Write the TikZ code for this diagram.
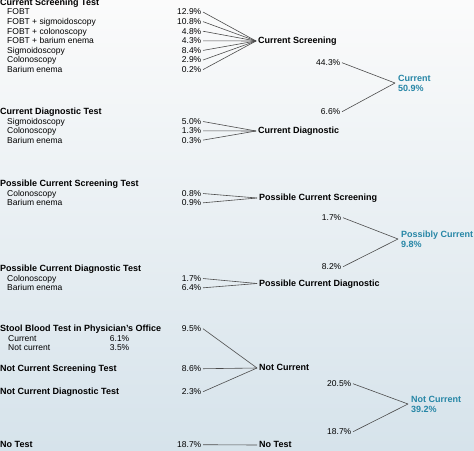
\documentclass[tikz,border=0pt]{standalone}
\usepackage{fontspec}
\setmainfont{Liberation Sans}
\usetikzlibrary{positioning,calc}
\definecolor{sumteal}{RGB}{38,134,166}
\definecolor{bgtop}{RGB}{251,251,251}
\definecolor{bgbot}{RGB}{214,227,235}

\begin{document}
\begin{tikzpicture}[
		x=1pt, y=-1pt,
		head/.style={
			anchor=mid west,
			font=\fontsize{9}{10}\selectfont\bfseries,
			inner sep=0pt
		},
		item/.style={
			anchor=mid west,
			font=\fontsize{8.5}{9}\selectfont,
			inner sep=0pt
		},
		pct/.style={
			anchor=mid east,
			font=\fontsize{8.5}{9}\selectfont,
			inner sep=1.5pt
		},
		group/.style={
			anchor=mid west,
			font=\fontsize{9}{10}\selectfont\bfseries,
			inner sep=2pt
		},
		total/.style={
			anchor=west,
			align=left,
			text=sumteal,
			font=\fontsize{9}{10}\selectfont\bfseries,
			inner sep=3pt
		},
		link/.style={
			draw=black!70,
			line width=0.6pt
		}
		]
		
		% Background
		\useasboundingbox (0,0) rectangle (474,450);
		\shade[top color=bgtop, bottom color=bgbot] (0,0) rectangle (474,450);
		
		% Current screening
		\node[head] (cshead) at (0,3) {Current Screening Test};
		\coordinate (cs) at (256,41);
		\foreach [count=\i] \txt/\val in {FOBT/12.9, FOBT + sigmoidoscopy/10.8, FOBT + colonoscopy/4.8, FOBT + barium enema/4.3, Sigmoidoscopy/8.4, Colonoscopy/2.9, Barium enema/0.2}{
			\node[item] (cst\i) at (7,{2.7+9.6*\i}) {\txt};
			\node[pct] (csp\i) at (203,{2.7+9.6*\i}) {\val\%};
			\draw[link] (csp\i.east) -- (cs);
		}
		\node[group] (csg) at (cs) {Current Screening};
		
		% Current diagnostic
		\node[head] (cdhead) at (0,112) {Current Diagnostic Test};
		\coordinate (cd) at (256,131);
		\foreach [count=\i] \txt/\val in {Sigmoidoscopy/5.0, Colonoscopy/1.3, Barium enema/0.3}{
			\node[item] (cdt\i) at (7,{112.5+9.3*\i}) {\txt};
			\node[pct] (cdp\i) at (203,{112.5+9.3*\i}) {\val\%};
			\draw[link] (cdp\i.east) -- (cd);
		}
		\node[group] (cdg) at (cd) {Current Diagnostic};
		
		% Current total
		\node[pct] (cur1) at (342,63) {44.3\%};
		\node[pct] (cur2) at (342,112) {6.6\%};
		\coordinate (cur) at (395,83);
		\draw[link] (cur1.east) -- (cur);
		\draw[link] (cur2.east) -- (cur);
		\node[total] (curt) at (cur) {Current\\50.9\%};
		
		% Possible current screening
		\node[head] (pshead) at (0,184) {Possible Current Screening Test};
		\coordinate (ps) at (257,198);
		\foreach [count=\i] \txt/\val in {Colonoscopy/0.8, Barium enema/0.9}{
			\node[item] (pst\i) at (7,{184.5+9.3*\i}) {\txt};
			\node[pct] (psp\i) at (203,{184.5+9.3*\i}) {\val\%};
			\draw[link] (psp\i.east) -- (ps);
		}
		\node[group] (psg) at (ps) {Possible Current Screening};
		
		% Possible current diagnostic
		\node[head] (pdhead) at (0,269) {Possible Current Diagnostic Test};
		\coordinate (pd) at (257,283.5);
		\foreach [count=\i] \txt/\val in {Colonoscopy/1.7, Barium enema/6.4}{
			\node[item] (pdt\i) at (7,{269.5+9.3*\i}) {\txt};
			\node[pct] (pdp\i) at (203,{269.5+9.3*\i}) {\val\%};
			\draw[link] (pdp\i.east) -- (pd);
		}
		\node[group] (pdg) at (pd) {Possible Current Diagnostic};
		
		% Possibly current total
		\node[pct] (pos1) at (343,218) {1.7\%};
		\node[pct] (pos2) at (343,267) {8.2\%};
		\coordinate (pos) at (398,239);
		\draw[link] (pos1.east) -- (pos);
		\draw[link] (pos2.east) -- (pos);
		\node[total] (post) at (pos) {Possibly Current\\9.8\%};
		
		% Not current
		\node[head] (sbhead) at (0,329) {Stool Blood Test in Physician's Office};
		\node[item] (sbt1) at (8,339) {Current};
		\node[item] (sbt2) at (8,348) {Not current};
		\node[pct] (sbv1) at (131,339) {6.1\%};
		\node[pct] (sbv2) at (131,348) {3.5\%};
		\node[head] (nshead) at (0,369) {Not Current Screening Test};
		\node[head] (ndhead) at (0,392) {Not Current Diagnostic Test};
		\node[pct] (ncp1) at (203,329) {9.5\%};
		\node[pct] (ncp2) at (203,369) {8.6\%};
		\node[pct] (ncp3) at (203,392) {2.3\%};
		\coordinate (nc) at (257,368);
		\foreach \i in {1,2,3}
		\draw[link] (ncp\i.east) -- (nc);
		\node[group] (ncg) at (nc) {Not Current};
		
		% No test
		\node[head] (nthead) at (0,445) {No Test};
		\node[pct] (ntp) at (203,445) {18.7\%};
		\coordinate (nt) at (257,445);
		\draw[link] (ntp.east) -- (nt);
		\node[group] (ntg) at (nt) {No Test};
		
		% Not current total
		\node[pct] (not1) at (353,384) {20.5\%};
		\node[pct] (not2) at (353,432) {18.7\%};
		\coordinate (not) at (408,404);
		\draw[link] (not1.east) -- (not);
		\draw[link] (not2.east) -- (not);
		\node[total] (nott) at (not) {Not Current\\39.2\%};
		
	\end{tikzpicture}
\end{document}
